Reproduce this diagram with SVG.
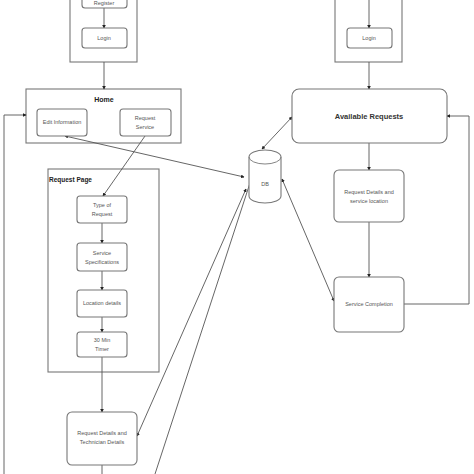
<svg xmlns="http://www.w3.org/2000/svg" width="474" height="474" viewBox="0 0 474 474">
<style>
.c{fill:none;stroke:#777;stroke-width:1.1}
.n{fill:#fff;stroke:#777;stroke-width:1.1}
.t{font-family:"Liberation Sans",Arial,sans-serif;font-size:5.5px;fill:#555;text-anchor:middle}
.h{font-family:"Liberation Sans",Arial,sans-serif;font-size:7px;font-weight:bold;fill:#222;text-anchor:middle}
.l{stroke:#555;stroke-width:0.9;fill:none}
</style>
<defs>
<marker id="a" viewBox="0 0 6 6" refX="5" refY="3" markerWidth="4" markerHeight="4" orient="auto"><path d="M0,0L6,3L0,6z" fill="#222"/></marker>
<marker id="s" viewBox="0 0 6 6" refX="1" refY="3" markerWidth="4" markerHeight="4" orient="auto"><path d="M6,0L0,3L6,6z" fill="#222"/></marker>
</defs>
<rect width="474" height="474" fill="#fff"/>
<g id="containers">
<rect id="leftTop" class="c" x="70" y="-20" width="67" height="82"/>
<rect id="rightTop" class="c" x="335" y="-20" width="67" height="82"/>
<rect id="home" class="c" x="26" y="89" width="155" height="54"/>
<rect id="requestPage" class="c" x="48" y="169" width="111" height="203"/>
</g>
<g id="connectors">
<line class="l" x1="104" y1="8" x2="104" y2="28" marker-end="url(#a)"/>
<line class="l" x1="104" y1="62" x2="104" y2="89" marker-end="url(#a)"/>
<line class="l" x1="369" y1="0" x2="369" y2="28" marker-end="url(#a)"/>
<line class="l" x1="369" y1="62" x2="369" y2="89" marker-end="url(#a)"/>
<polyline class="l" points="4,474 4,115 26,115" marker-end="url(#a)"/>
<line class="l" x1="65" y1="136" x2="244" y2="177" marker-start="url(#s)" marker-end="url(#a)"/>
<line class="l" x1="145" y1="136" x2="103" y2="196" marker-end="url(#a)"/>
<line class="l" x1="292" y1="117" x2="262" y2="149" marker-start="url(#s)" marker-end="url(#a)"/>
<line class="l" x1="246" y1="189" x2="137" y2="436" marker-start="url(#s)" marker-end="url(#a)"/>
<line class="l" x1="250" y1="183" x2="155" y2="474"/>
<line class="l" x1="282" y1="179" x2="334" y2="301" marker-start="url(#s)" marker-end="url(#a)"/>
<line class="l" x1="369" y1="143" x2="369" y2="170" marker-end="url(#a)"/>
<line class="l" x1="369" y1="222" x2="369" y2="277" marker-end="url(#a)"/>
<polyline class="l" points="404,304 469,304 469,116 447,116" marker-end="url(#a)"/>
<line class="l" x1="102" y1="223" x2="102" y2="243" marker-end="url(#a)"/>
<line class="l" x1="102" y1="271" x2="102" y2="290" marker-end="url(#a)"/>
<line class="l" x1="102" y1="317" x2="102" y2="332" marker-end="url(#a)"/>
<line class="l" x1="102" y1="357" x2="102" y2="412" marker-end="url(#a)"/>
<line class="l" x1="102" y1="465" x2="102" y2="474"/>
</g>
<g id="register"><rect class="n" x="82" y="-12" width="45" height="20" rx="3"/><text class="t" x="104" y="5">Register</text></g>
<g id="login1"><rect class="n" x="82" y="28" width="45" height="20" rx="3"/><text class="t" x="104" y="40">Login</text></g>
<g id="login2"><rect class="n" x="347" y="28" width="45" height="20" rx="3"/><text class="t" x="369" y="40">Login</text></g>
<g id="homeLabel"><text class="h" x="104" y="102">Home</text></g>
<g id="editInfo"><rect class="n" x="37" y="109" width="50" height="27" rx="3"/><text class="t" x="62" y="124">Edit Information</text></g>
<g id="requestService"><rect class="n" x="120" y="109" width="51" height="27" rx="3"/><text class="t" x="145" y="120">Request</text><text class="t" x="145" y="129">Service</text></g>
<g id="available"><rect class="n" x="292" y="89" width="155" height="54" rx="7"/><text class="h" x="369" y="119" style="fill:#333;font-size:7.5px">Available Requests</text></g>
<g id="db">
<path class="n" d="M249,157 A16,7 0 0 1 281,157 L281,196 A16,7 0 0 1 249,196 Z"/>
<path class="l" d="M249,157 A16,7 0 0 0 281,157" style="stroke:#777"/>
<text class="t" x="265" y="186">DB</text>
</g>
<g id="requestPageLabel"><text class="h" x="49" y="182" style="text-anchor:start;font-size:6.5px">Request Page</text></g>
<g id="typeOfRequest"><rect class="n" x="77" y="196" width="50" height="27" rx="3"/><text class="t" x="102" y="207">Type of</text><text class="t" x="102" y="216">Request</text></g>
<g id="serviceSpec"><rect class="n" x="77" y="243" width="50" height="28" rx="3"/><text class="t" x="102" y="255">Service</text><text class="t" x="102" y="264">Specifications</text></g>
<g id="locationDetails"><rect class="n" x="77" y="290" width="50" height="27" rx="3"/><text class="t" x="102" y="305">Location details</text></g>
<g id="timer"><rect class="n" x="77" y="332" width="50" height="25" rx="3"/><text class="t" x="102" y="342">30 Min</text><text class="t" x="102" y="351">Timer</text></g>
<g id="reqTech"><rect class="n" x="67" y="412" width="70" height="53" rx="5"/><text class="t" x="102" y="435">Request Details and</text><text class="t" x="102" y="444">Technician Details</text></g>
<g id="reqService"><rect class="n" x="334" y="170" width="70" height="52" rx="5"/><text class="t" x="369" y="194">Request Details and</text><text class="t" x="369" y="203">service location</text></g>
<g id="serviceCompletion"><rect class="n" x="334" y="277" width="70" height="55" rx="5"/><text class="t" x="369" y="306">Service Completion</text></g>
</svg>
